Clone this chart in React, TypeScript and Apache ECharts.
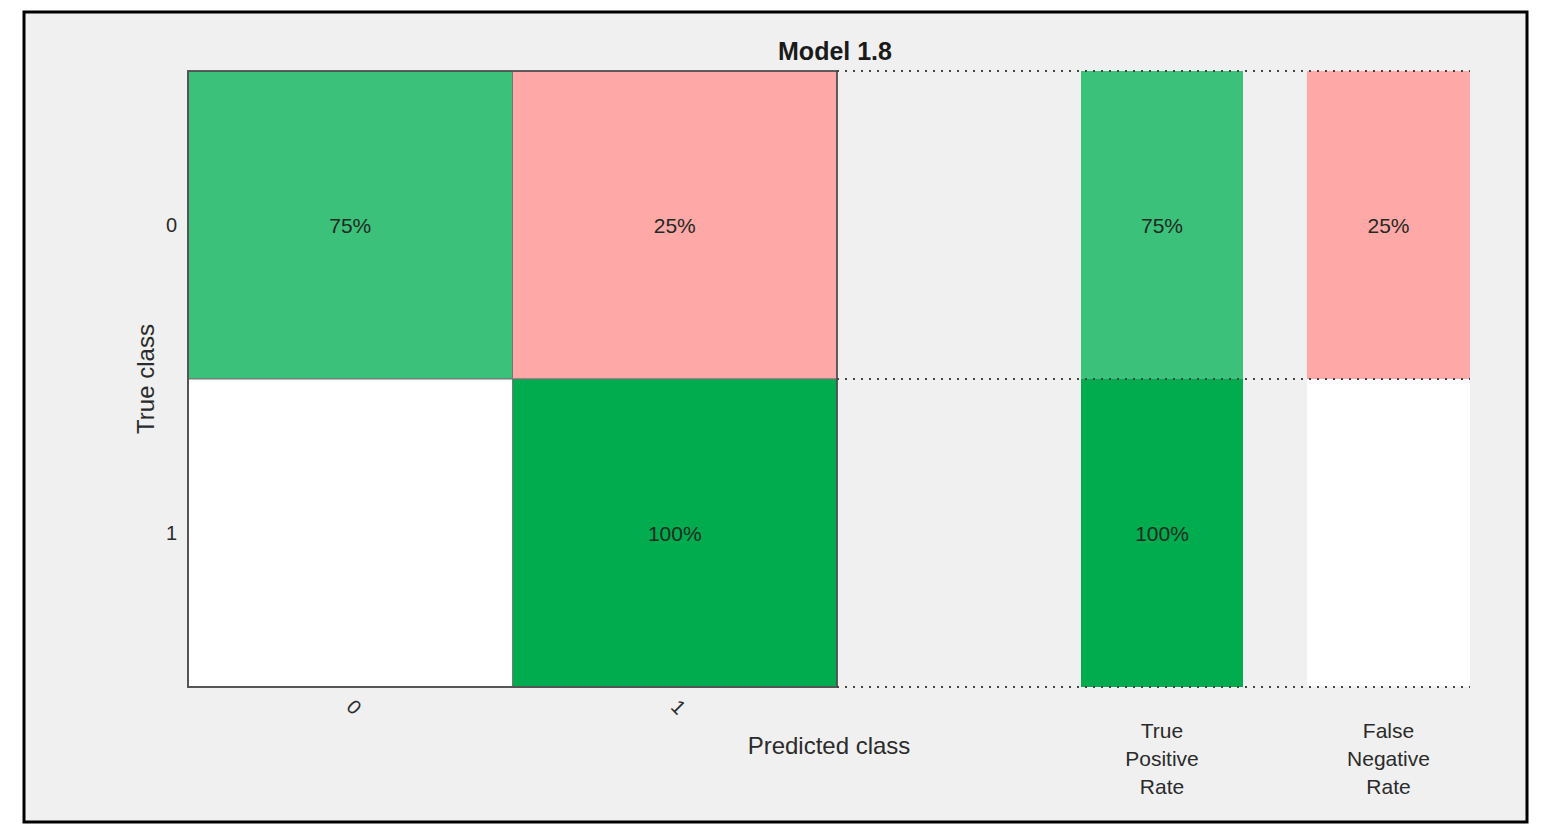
import React, { useEffect, useRef } from "react";
import * as echarts from "echarts";

const trueClasses = ["0", "1"];
const predictedClasses = ["0", "1"];
// [predictedIndex, trueIndex, percent]
const matrixValues = [
  [0, 0, 75],
  [1, 0, 25],
  [0, 1, 0],
  [1, 1, 100],
];
const tprLabel = ["True\nPositive\nRate"];
const fnrLabel = ["False\nNegative\nRate"];
const tprValues = [75, 100];
const fnrValues = [25, 0];
const rowLevels = [0, 1, 2];

const GREEN_75 = "#3cc17a";
const GREEN_100 = "#00ac4e";
const PINK_25 = "#ffa8a8";

function greenFor(v: number) {
  if (v >= 100) return GREEN_100;
  if (v <= 0) return "#ffffff";
  return GREEN_75;
}
function redFor(v: number) {
  if (v <= 0) return "#ffffff";
  return PINK_25;
}

const FONT = "'Liberation Sans', Arial, Helvetica, sans-serif";
const TEXT = "#2b2b2b";

function makeRender(kind: "main" | "green" | "red", stroke: string | null) {
  return (params: any, api: any) => {
    const x = api.value(0);
    const y = api.value(1);
    const v = api.value(2);
    const c = api.coord([x, y]);
    const s = api.size([1, 1]);
    let fill: string;
    if (kind === "main") fill = x === y ? greenFor(v) : redFor(v);
    else if (kind === "green") fill = greenFor(v);
    else fill = redFor(v);
    const children: any[] = [
      {
        type: "rect",
        shape: { x: c[0] - s[0] / 2, y: c[1] - s[1] / 2, width: s[0], height: s[1] },
        style: stroke ? { fill, stroke, lineWidth: 1 } : { fill },
      },
    ];
    if (v > 0) {
      children.push({
        type: "text",
        x: c[0],
        y: c[1],
        style: {
          text: `${v}%`,
          fontFamily: FONT,
          fontSize: 21,
          fill: "#1f2a22",
          textAlign: "center",
          textVerticalAlign: "middle",
        },
      });
    }
    return { type: "group", children };
  };
}

export default function App() {
  const ref = useRef<HTMLDivElement>(null);

  useEffect(() => {
    if (!ref.current) return;
    const chart = echarts.init(ref.current, undefined, { renderer: "svg" });

    const option: any = {
      animation: false,
      backgroundColor: "#ffffff",
      textStyle: { fontFamily: FONT },
      title: {
        text: "Model 1.8",
        left: 830,
        top: 33,
        textAlign: "center",
        textStyle: { fontFamily: FONT, fontSize: 25, fontWeight: "bold", color: "#1a1a1a" },
      },
      graphic: [
        {
          type: "rect",
          z: -10,
          silent: true,
          shape: { x: 24, y: 12, width: 1503, height: 810 },
          style: { fill: "#f0f0f0", stroke: "#000000", lineWidth: 3 },
        },
        {
          type: "text",
          x: 829,
          y: 745,
          style: {
            text: "Predicted class",
            fontFamily: FONT,
            fontSize: 24,
            fill: TEXT,
            textAlign: "center",
            textVerticalAlign: "middle",
          },
        },
        {
          type: "text",
          x: 145,
          y: 379,
          rotation: Math.PI / 2,
          style: {
            text: "True class",
            fontFamily: FONT,
            fontSize: 24,
            fill: TEXT,
            textAlign: "center",
            textVerticalAlign: "middle",
          },
        },
      ],
      grid: [
        { left: 188, top: 71, width: 649, height: 616, show: true, borderColor: "#444", borderWidth: 1.5, backgroundColor: "transparent", z: 5 },
        { left: 1081, top: 71, width: 162, height: 616 },
        { left: 1307, top: 71, width: 163, height: 616 },
        { left: 837, top: 71, width: 633, height: 616 },
      ],
      xAxis: [
        {
          type: "category",
          gridIndex: 0,
          data: predictedClasses,
          z: 5,
          axisLine: { show: true, lineStyle: { color: "#555", width: 2 } },
          axisTick: { show: false },
          axisLabel: { rotate: -45, fontFamily: FONT, fontSize: 20, color: TEXT, margin: 16 },
          splitLine: { show: false },
        },
        {
          type: "category",
          gridIndex: 1,
          data: tprLabel,
          axisLine: { show: false },
          axisTick: { show: false },
          axisLabel: { fontFamily: FONT, fontSize: 21, color: TEXT, lineHeight: 28, margin: 29 },
        },
        {
          type: "category",
          gridIndex: 2,
          data: fnrLabel,
          axisLine: { show: false },
          axisTick: { show: false },
          axisLabel: { fontFamily: FONT, fontSize: 21, color: TEXT, lineHeight: 28, margin: 29 },
        },
        {
          type: "value",
          gridIndex: 3,
          min: 0,
          max: 1,
          show: false,
        },
      ],
      yAxis: [
        {
          type: "category",
          gridIndex: 0,
          data: trueClasses,
          inverse: true,
          z: 5,
          axisLine: { show: true, lineStyle: { color: "#555", width: 2 } },
          axisTick: { show: false },
          axisLabel: { fontFamily: FONT, fontSize: 20, color: TEXT, margin: 11 },
        },
        { type: "category", gridIndex: 1, data: trueClasses, inverse: true, show: false },
        { type: "category", gridIndex: 2, data: trueClasses, inverse: true, show: false },
        {
          type: "value",
          gridIndex: 3,
          min: 0,
          max: 2,
          interval: 1,
          z: 10,
          axisLine: { show: false },
          axisTick: { show: false },
          axisLabel: { show: false },
          splitLine: { show: true, lineStyle: { color: "#444", type: [2, 6], width: 2 } },
        },
      ],
      series: [
        {
          type: "custom",
          xAxisIndex: 0,
          yAxisIndex: 0,
          data: matrixValues,
          renderItem: makeRender("main", "#777"),
          silent: true,
        },
        {
          type: "custom",
          xAxisIndex: 1,
          yAxisIndex: 1,
          data: tprValues.map((v, i) => [0, i, v]),
          renderItem: makeRender("green", null),
          silent: true,
        },
        {
          type: "custom",
          xAxisIndex: 2,
          yAxisIndex: 2,
          data: fnrValues.map((v, i) => [0, i, v]),
          renderItem: makeRender("red", null),
          silent: true,
        },
        {
          type: "line",
          xAxisIndex: 3,
          yAxisIndex: 3,
          data: rowLevels.map((r) => [0, r]),
          showSymbol: false,
          lineStyle: { opacity: 0 },
          silent: true,
        },
      ],
    };

    chart.setOption(option);
    return () => chart.dispose();
  }, []);

  return (
    <div
      ref={ref}
      style={{ position: "fixed", left: 0, top: 0, width: 1548, height: 826 }}
    />
  );
}
